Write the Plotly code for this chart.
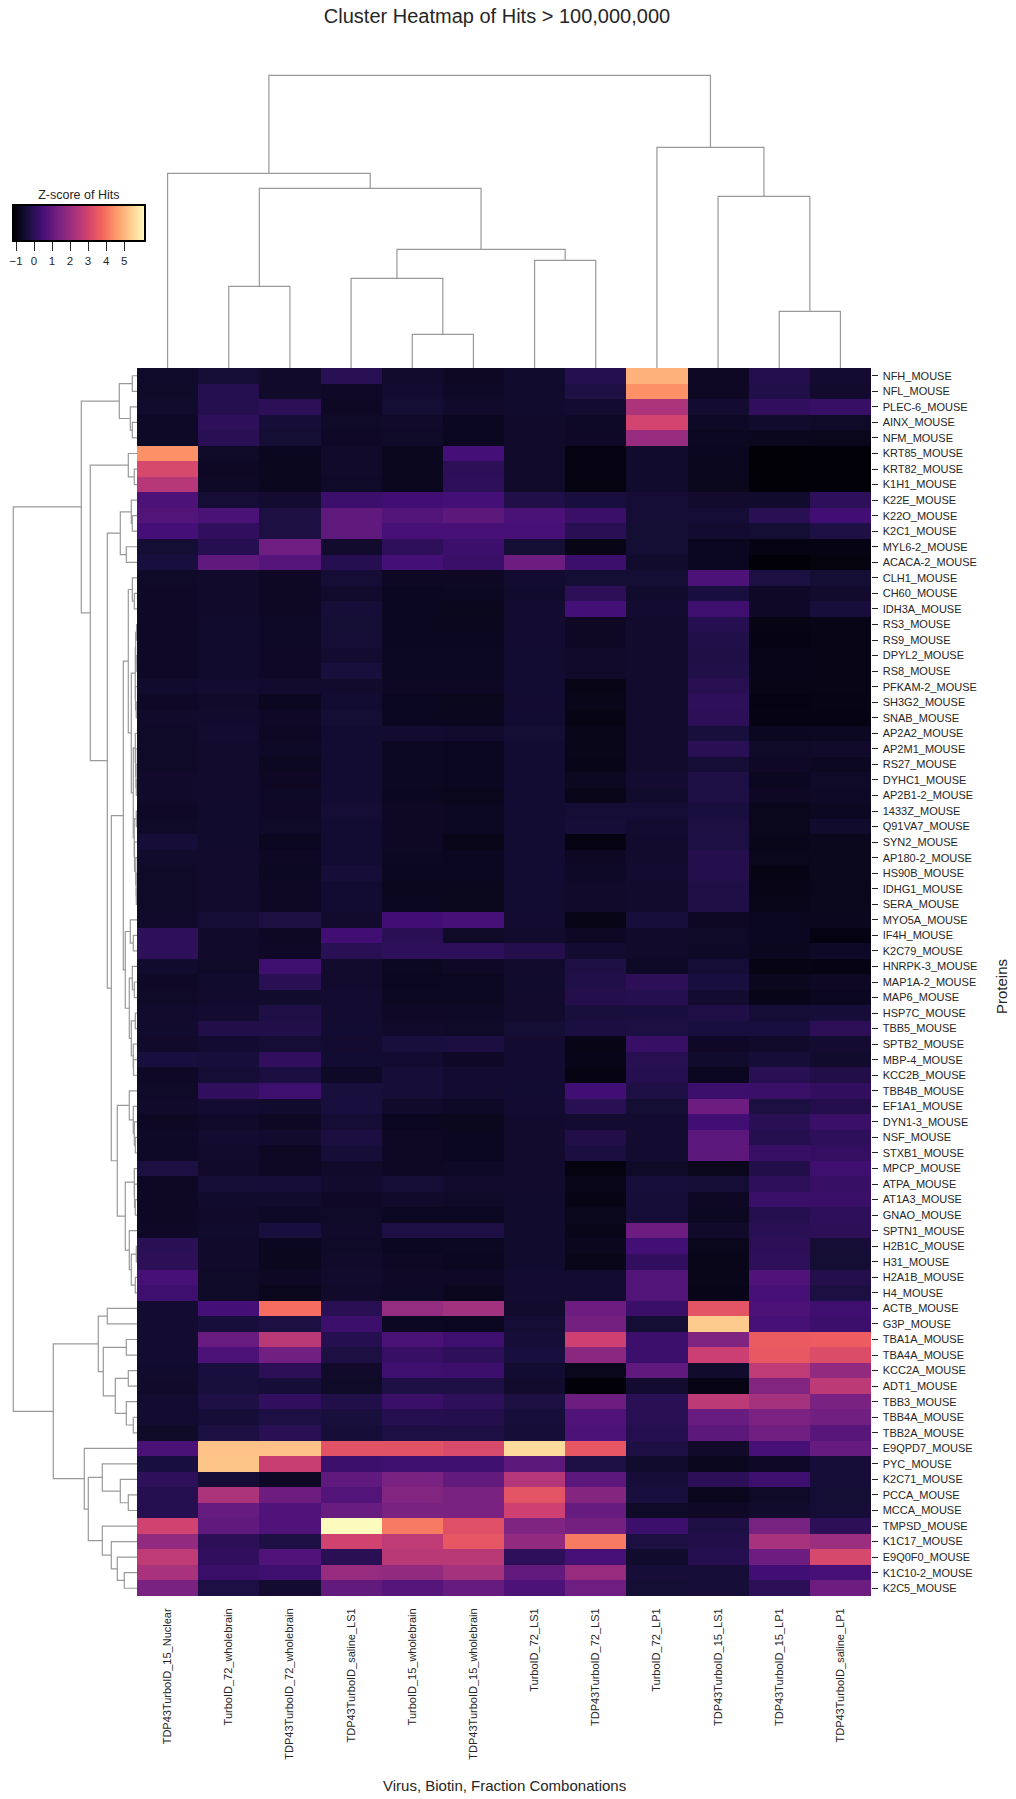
import plotly.graph_objects as go

samples = [
    "TDP43TurboID_15_Nuclear", "TurboID_72_wholebrain", "TDP43TurboID_72_wholebrain",
    "TDP43TurboID_saline_LS1", "TurboID_15_wholebrain", "TDP43TurboID_15_wholebrain",
    "TurboID_72_LS1", "TDP43TurboID_72_LS1", "TurboID_72_LP1",
    "TDP43TurboID_15_LS1", "TDP43TurboID_15_LP1", "TDP43TurboID_saline_LP1",
]

proteins = [
    "NFH_MOUSE", "NFL_MOUSE", "PLEC-6_MOUSE", "AINX_MOUSE", "NFM_MOUSE", "KRT85_MOUSE", "KRT82_MOUSE",
    "K1H1_MOUSE", "K22E_MOUSE", "K22O_MOUSE", "K2C1_MOUSE", "MYL6-2_MOUSE", "ACACA-2_MOUSE", "CLH1_MOUSE",
    "CH60_MOUSE", "IDH3A_MOUSE", "RS3_MOUSE", "RS9_MOUSE", "DPYL2_MOUSE", "RS8_MOUSE", "PFKAM-2_MOUSE",
    "SH3G2_MOUSE", "SNAB_MOUSE", "AP2A2_MOUSE", "AP2M1_MOUSE", "RS27_MOUSE", "DYHC1_MOUSE", "AP2B1-2_MOUSE",
    "1433Z_MOUSE", "Q91VA7_MOUSE", "SYN2_MOUSE", "AP180-2_MOUSE", "HS90B_MOUSE", "IDHG1_MOUSE", "SERA_MOUSE",
    "MYO5A_MOUSE", "IF4H_MOUSE", "K2C79_MOUSE", "HNRPK-3_MOUSE", "MAP1A-2_MOUSE", "MAP6_MOUSE", "HSP7C_MOUSE",
    "TBB5_MOUSE", "SPTB2_MOUSE", "MBP-4_MOUSE", "KCC2B_MOUSE", "TBB4B_MOUSE", "EF1A1_MOUSE", "DYN1-3_MOUSE",
    "NSF_MOUSE", "STXB1_MOUSE", "MPCP_MOUSE", "ATPA_MOUSE", "AT1A3_MOUSE", "GNAO_MOUSE", "SPTN1_MOUSE",
    "H2B1C_MOUSE", "H31_MOUSE", "H2A1B_MOUSE", "H4_MOUSE", "ACTB_MOUSE", "G3P_MOUSE", "TBA1A_MOUSE",
    "TBA4A_MOUSE", "KCC2A_MOUSE", "ADT1_MOUSE", "TBB3_MOUSE", "TBB4A_MOUSE", "TBB2A_MOUSE", "E9QPD7_MOUSE",
    "PYC_MOUSE", "K2C71_MOUSE", "PCCA_MOUSE", "MCCA_MOUSE", "TMPSD_MOUSE", "K1C17_MOUSE", "E9Q0F0_MOUSE",
    "K1C10-2_MOUSE", "K2C5_MOUSE",
]

# one row per protein, same order as samples
zscores = [
    [-.64, -.45, -.62, -.05, -.58, -.72, -.6, -.1, 4.95, -.72, -.15, -.55],
    [-.66, -.1, -.62, -.68, -.55, -.7, -.6, -.25, 4.45, -.72, -.2, -.58],
    [-.6, -.12, 0.0, -.72, -.5, -.62, -.6, -.55, 2.3, -.55, 0.1, 0.2],
    [-.7, 0.05, -.42, -.65, -.62, -.78, -.62, -.7, 3.0, -.7, -.6, -.65],
    [-.7, -.05, -.5, -.68, -.65, -.78, -.62, -.68, 1.95, -.75, -.8, -.85],
    [4.45, -.65, -.78, -.62, -.8, .45, -.62, -1.0, -.6, -.78, -1.12, -1.1],
    [3.1, -.72, -.8, -.62, -.8, 0.0, -.62, -1.0, -.6, -.8, -1.12, -1.1],
    [2.5, -.7, -.8, -.65, -.8, .05, -.62, -1.02, -.6, -.82, -1.12, -1.1],
    [.6, -.45, -.55, .3, .4, .45, -.2, -.35, -.45, -.58, -.6, 0.05],
    [.7, .55, -.3, .95, .7, .9, .55, .25, -.45, -.45, -.05, .4],
    [.45, .1, -.3, .95, .5, .5, .5, -.05, -.5, -.55, -.5, -.25],
    [-.5, -.1, 1.2, -.58, .05, .3, -.5, -.92, -.5, -.78, -.98, -.98],
    [-.35, .95, .75, -.1, .45, .25, 1.15, .3, -.6, -.78, -1.1, -1.03],
    [-.65, -.62, -.72, -.45, -.72, -.72, -.55, -.5, -.5, .6, -.3, -.5],
    [-.68, -.62, -.72, -.58, -.78, -.75, -.6, 0.0, -.6, -.35, -.68, -.58],
    [-.68, -.62, -.72, -.42, -.78, -.82, -.55, .45, -.55, .35, -.68, -.4],
    [-.68, -.6, -.7, -.5, -.78, -.8, -.55, -.72, -.58, -.1, -.95, -.92],
    [-.68, -.6, -.7, -.48, -.78, -.78, -.55, -.72, -.58, -.2, -1.0, -.92],
    [-.68, -.6, -.68, -.55, -.76, -.75, -.52, -.62, -.58, -.22, -.9, -.92],
    [-.68, -.6, -.68, -.38, -.76, -.75, -.52, -.62, -.58, -.2, -.9, -.92],
    [-.6, -.55, -.58, -.58, -.72, -.72, -.52, -.92, -.58, -.08, -.92, -.92],
    [-.68, -.62, -.78, -.52, -.78, -.82, -.55, -.88, -.58, .05, -1.0, -.95],
    [-.62, -.58, -.68, -.5, -.78, -.8, -.52, -.95, -.58, 0.0, -.98, -.98],
    [-.66, -.55, -.72, -.52, -.55, -.58, -.5, -.88, -.58, -.38, -.78, -.75],
    [-.66, -.58, -.7, -.52, -.75, -.78, -.52, -.88, -.58, -.05, -.65, -.62],
    [-.66, -.58, -.75, -.52, -.75, -.78, -.52, -.9, -.58, -.45, -.68, -.75],
    [-.62, -.58, -.72, -.52, -.75, -.78, -.52, -.75, -.55, -.25, -.78, -.65],
    [-.62, -.58, -.7, -.52, -.78, -.85, -.52, -.88, -.6, -.25, -.72, -.7],
    [-.68, -.6, -.68, -.45, -.72, -.75, -.52, -.45, -.48, -.35, -.85, -.75],
    [-.65, -.6, -.65, -.52, -.72, -.75, -.52, -.42, -.55, -.3, -.85, -.6],
    [-.42, -.6, -.78, -.52, -.72, -.88, -.52, -.98, -.58, -.28, -.88, -.82],
    [-.6, -.58, -.72, -.52, -.75, -.78, -.52, -.72, -.58, -.15, -.85, -.82],
    [-.65, -.58, -.75, -.42, -.78, -.78, -.52, -.7, -.55, -.15, -.95, -.82],
    [-.65, -.58, -.72, -.52, -.8, -.85, -.52, -.62, -.58, -.22, -.92, -.85],
    [-.65, -.58, -.72, -.52, -.78, -.82, -.52, -.62, -.58, -.22, -.88, -.82],
    [-.62, -.45, -.3, -.58, .4, .5, -.55, -.92, -.4, -.72, -.78, -.8],
    [.05, -.62, -.72, .4, -.02, -.65, -.58, -.72, -.62, -.65, -.78, -1.0],
    [.05, -.62, -.68, -.05, .05, .05, -.15, -.55, -.62, -.7, -.8, -.7],
    [-.6, -.65, .35, -.58, -.75, -.68, -.58, -.25, -.7, -.45, -.95, -.98],
    [-.68, -.6, -.05, -.58, -.78, -.75, -.6, -.2, 0.0, -.35, -.8, -.72],
    [-.65, -.58, -.6, -.55, -.75, -.75, -.58, -.15, -.1, -.55, -.9, -.78],
    [-.58, -.55, -.22, -.55, -.68, -.7, -.58, -.38, -.35, -.22, -.45, -.42],
    [-.6, -.18, -.18, -.52, -.62, -.65, -.5, -.32, -.3, -.35, -.35, 0.0],
    [-.62, -.55, -.48, -.55, -.38, -.32, -.55, -.92, .2, -.68, -.62, -.55],
    [-.35, -.4, .1, -.52, -.55, -.68, -.55, -.9, -.08, -.6, -.42, -.6],
    [-.68, -.45, -.32, -.7, -.42, -.55, -.55, -.98, -.1, -.78, -.05, -.18],
    [-.65, .1, .35, -.38, -.42, -.55, -.52, .4, -.25, .3, .25, .1],
    [-.62, -.55, -.6, -.35, -.62, -.7, -.55, -.05, -.5, 1.15, -.3, -.15],
    [-.72, -.62, -.72, -.45, -.78, -.82, -.58, -.55, -.55, .4, -.05, .25],
    [-.7, -.55, -.58, -.32, -.72, -.78, -.58, -.18, -.55, .85, -.12, .05],
    [-.7, -.58, -.72, -.42, -.72, -.78, -.58, -.32, -.55, .9, .2, .15],
    [-.3, -.62, -.72, -.62, -.72, -.7, -.58, -1.02, -.65, -.85, -.18, .35],
    [-.72, -.45, -.42, -.58, -.45, -.58, -.58, -.88, -.4, -.45, .05, .2],
    [-.72, -.6, -.6, -.68, -.62, -.65, -.6, -.95, -.42, -.72, .25, .25],
    [-.72, -.62, -.7, -.65, -.75, -.75, -.6, -.85, -.42, -.75, -.12, .05],
    [-.68, -.6, -.35, -.62, -.28, -.28, -.6, -.88, 1.15, -.62, -.05, 0.0],
    [-.05, -.62, -.78, -.65, -.78, -.75, -.6, -.8, .42, -.85, 0.0, -.45],
    [0.0, -.62, -.8, -.62, -.72, -.78, -.6, -.88, .1, -.88, .05, -.5],
    [.5, -.65, -.72, -.58, -.68, -.68, -.55, -.55, .7, -.88, .65, -.15],
    [.35, -.65, -.85, -.62, -.7, -.8, -.55, -.55, .7, -.9, .5, -.3],
    [-.55, .45, 3.9, -.05, 1.9, 2.15, -.58, 1.15, .25, 3.4, .6, .35],
    [-.55, -.4, -.3, .3, -.75, -.78, -.45, 1.3, -.5, 5.35, .5, .3],
    [-.55, 1.1, 2.55, -.1, .55, .35, -.42, 2.9, .3, 1.5, 3.55, 3.6],
    [-.55, .6, 1.25, -.3, .2, .05, -.35, 1.7, .3, 2.85, 3.5, 3.2],
    [-.6, -.35, 0.0, -.62, .35, .3, -.52, -.85, .95, -.6, 2.65, 1.85],
    [-.62, -.38, -.42, -.65, -.25, -.25, -.58, -1.1, -.55, -.95, 1.55, 2.6],
    [-.55, -.25, .1, -.2, .25, .05, -.3, 1.15, -.05, 2.6, 2.2, 1.4],
    [-.55, -.42, -.28, -.38, -.1, -.15, -.4, .65, -.05, 1.1, 1.45, 1.25],
    [-.65, -.3, -.05, -.42, -.28, -.28, -.42, .6, -.1, .9, 1.25, .8],
    [.55, 5.2, 5.2, 3.35, 3.35, 3.15, 5.6, 3.45, -.25, -.62, .5, 1.05],
    [-.35, 5.25, 2.8, .3, .35, .35, .9, -.25, -.6, -.8, -.68, -.42],
    [.05, -.45, -.72, .95, 1.4, 1.0, 2.45, .85, -.42, 0.0, .35, -.42],
    [-.1, 2.3, 1.15, .7, 1.55, 1.4, 3.4, 1.6, -.35, -.8, -.65, -.5],
    [-.1, 1.05, .65, 1.1, 1.4, 1.4, 2.9, 1.05, -.65, -.68, -.6, -.45],
    [2.95, .95, .65, 6.1, 4.1, 3.3, 1.5, 1.3, .3, -.25, 1.35, 0.0],
    [1.85, 0.0, -.25, 2.95, 2.65, 3.45, 1.85, 4.1, -.3, -.18, 2.25, 2.05],
    [2.65, .1, .65, -.02, 2.55, 2.55, .05, .5, -.6, -.1, 1.15, 3.1],
    [2.25, .25, .35, 1.95, 1.85, 2.2, 1.0, 1.95, -.42, -.42, .4, .5],
    [1.4, -.28, -.55, 1.0, .75, 1.05, .6, 1.2, -.5, -.42, 0.0, 1.15],
]

# merges as (first leaf, first leaf of right child, end leaf, distance)
col_merges = [
    (1, 2, 3, 81.7), (4, 5, 6, 33.7), (3, 4, 6, 89.7), (6, 7, 8, 107.7), (3, 6, 8, 118.7), (1, 3, 8, 179.7),
    (0, 1, 8, 194.7), (10, 11, 12, 56.7), (9, 10, 12, 171.7), (8, 9, 12, 220.7), (0, 8, 12, 292.7),
]

row_merges = [
    (0, 1, 2, 4.7), (3, 4, 5, 4.7), (2, 3, 5, 6.7), (0, 2, 5, 17.7), (6, 7, 8, 2.7), (5, 6, 8, 8.7),
    (9, 10, 11, 4.7), (8, 9, 11, 5.7), (11, 12, 13, 10.7), (8, 11, 13, 16.7), (14, 15, 16, 2.7), (13, 14, 16, 4.7),
    (16, 17, 18, .5), (18, 19, 20, .8), (16, 18, 20, 1.3), (21, 22, 23, .8), (20, 21, 23, 1.5), (16, 20, 23, 1.7),
    (26, 27, 28, .7), (25, 26, 28, 1.0), (24, 25, 28, 1.3), (23, 24, 28, 1.7), (28, 29, 30, .7), (33, 34, 35, .7),
    (32, 33, 35, .8), (31, 32, 35, 1.2), (30, 31, 35, 2.5), (28, 30, 35, 2.8), (23, 28, 35, 3.7), (16, 23, 35, 5.7),
    (13, 16, 35, 8.7), (36, 37, 38, 3.7), (35, 36, 38, 6.7), (39, 40, 41, 2.7), (38, 39, 41, 4.7), (41, 42, 43, 1.7),
    (44, 45, 46, 3.5), (43, 44, 46, 3.7), (41, 43, 46, 5.7), (38, 41, 46, 7.7), (35, 38, 46, 11.7), (13, 35, 46, 13.7),
    (49, 50, 51, 1.7), (48, 49, 51, 2.7), (47, 48, 51, 3.7), (46, 47, 51, 7.7), (53, 54, 55, 1.7), (52, 53, 55, 2.5),
    (51, 52, 55, 2.7), (56, 57, 58, .7), (58, 59, 60, 1.7), (56, 58, 60, 5.7), (55, 56, 60, 7.7), (51, 55, 60, 11.7),
    (46, 51, 60, 19.7), (13, 46, 60, 25.7), (8, 13, 60, 29.7), (5, 8, 60, 46.7), (0, 5, 60, 55.7), (60, 61, 62, 29.7),
    (62, 63, 64, 10.7), (64, 65, 66, 8.7), (67, 68, 69, 3.7), (66, 67, 69, 10.7), (64, 66, 69, 21.7), (62, 64, 69, 33.7),
    (60, 62, 69, 38.7), (72, 73, 74, 8.7), (71, 72, 74, 16.7), (70, 71, 74, 34.7), (77, 78, 79, 12.7), (76, 77, 79, 19.7),
    (75, 76, 79, 25.7), (74, 75, 79, 34.7), (70, 74, 79, 48.7), (69, 70, 79, 52.7), (60, 69, 79, 83.7), (0, 60, 79, 123.7),
]

W, H = 1016, 1799
FONT = "Liberation Sans"
TEXT = "#262626"
LINK = "#999999"


def dendrogram_lines(merges):
    # returns leaf positions and heights of the U shapes, children before parents
    nodes = {}
    pos = []
    dist = []

    def node(a, b):
        if b - a == 1:
            return a + 0.5, 0.0
        return nodes[(a, b)]

    for a, m, b, d in sorted(merges, key=lambda item: item[2] - item[0]):
        p1, d1 = node(a, m)
        p2, d2 = node(m, b)
        pos += [p1, p1, p2, p2, None]
        dist += [d1, d, d, d2, None]
        nodes[(a, b)] = ((p1 + p2) / 2, d)
    return pos, dist


def dom(lo, hi, size):
    return [lo / size, hi / size]


fig = go.Figure()

fig.add_trace(go.Heatmap(
    z=zscores, x=samples, y=proteins,
    colorscale="Magma", zmin=-1.18, zmax=6.15,
    xaxis="x", yaxis="y",
    colorbar=dict(
        orientation="h", lenmode="pixels", len=131.5, thickness=35.5, thicknessmode="pixels",
        x=78.8 / W, xanchor="center", y=1 - 191 / H, yanchor="top", xpad=0, ypad=0,
        outlinecolor="black", outlinewidth=2,
        tickmode="array", tickvals=[-1, 0, 1, 2, 3, 4, 5],
        ticks="outside", ticklen=9.5, tickwidth=1.2, tickcolor=TEXT,
        tickfont=dict(family=FONT, size=11.5, color=TEXT),
        title=dict(text="Z-score of Hits", side="top", font=dict(family=FONT, size=12.5, color=TEXT)),
    ),
))

col_pos, col_dist = dendrogram_lines(col_merges)
fig.add_trace(go.Scatter(x=col_pos, y=col_dist, mode="lines", line=dict(color=LINK, width=1.2),
                         xaxis="x2", yaxis="y2", showlegend=False, hoverinfo="skip"))

row_pos, row_dist = dendrogram_lines(row_merges)
fig.add_trace(go.Scatter(x=row_dist, y=row_pos, mode="lines", line=dict(color=LINK, width=1.2),
                         xaxis="x3", yaxis="y3", showlegend=False, hoverinfo="skip"))

tick_font = dict(family=FONT, size=11, color=TEXT)
fig.update_layout(
    width=W, height=H,
    margin=dict(l=0, r=0, t=0, b=0),
    paper_bgcolor="white", plot_bgcolor="white",
    font=dict(family=FONT, color=TEXT),
    title=dict(text="Cluster Heatmap of Hits > 100,000,000", x=497 / W, xanchor="center",
               y=1 - 15.5 / H, yanchor="middle", font=dict(family=FONT, size=20, color=TEXT)),
    xaxis=dict(domain=dom(137, 871, W), tickangle=-90, ticks="outside", ticklen=7, tickcolor="rgba(0,0,0,0)",
               tickfont=tick_font, showgrid=False, zeroline=False, showline=False),
    yaxis=dict(domain=dom(H - 1596, H - 368, H), side="right", autorange="reversed", ticks="outside", ticklen=5.5,
               tickwidth=1, tickcolor=TEXT, tickfont=tick_font, showgrid=False, zeroline=False, showline=False,
               tickmode="linear", dtick=1, ticklabelstandoff=3),
    xaxis2=dict(domain=dom(137, 871, W), range=[0, 12], visible=False),
    yaxis2=dict(domain=dom(H - 368, H - 68, H), range=[0, 300], visible=False),
    xaxis3=dict(domain=dom(7, 137, W), range=[130, 0], visible=False),
    yaxis3=dict(domain=dom(H - 1596, H - 368, H), range=[79, 0], visible=False),
    annotations=[
        dict(text="Virus, Biotin, Fraction Combonations", x=504.5 / W, y=1 - 1785 / H, xref="paper", yref="paper",
             showarrow=False, xanchor="center", yanchor="middle", font=dict(family=FONT, size=15, color=TEXT)),
        dict(text="Proteins", x=1001 / W, y=1 - 987 / H, xref="paper", yref="paper", textangle=-90,
             showarrow=False, xanchor="center", yanchor="middle", font=dict(family=FONT, size=15, color=TEXT)),
    ],
)

# drop the default body margin so the page lines up with the figure
fig.write_html("out.html", config={"displayModeBar": False},
               post_script="document.body.style.margin='0';window.dispatchEvent(new Event('resize'));")
